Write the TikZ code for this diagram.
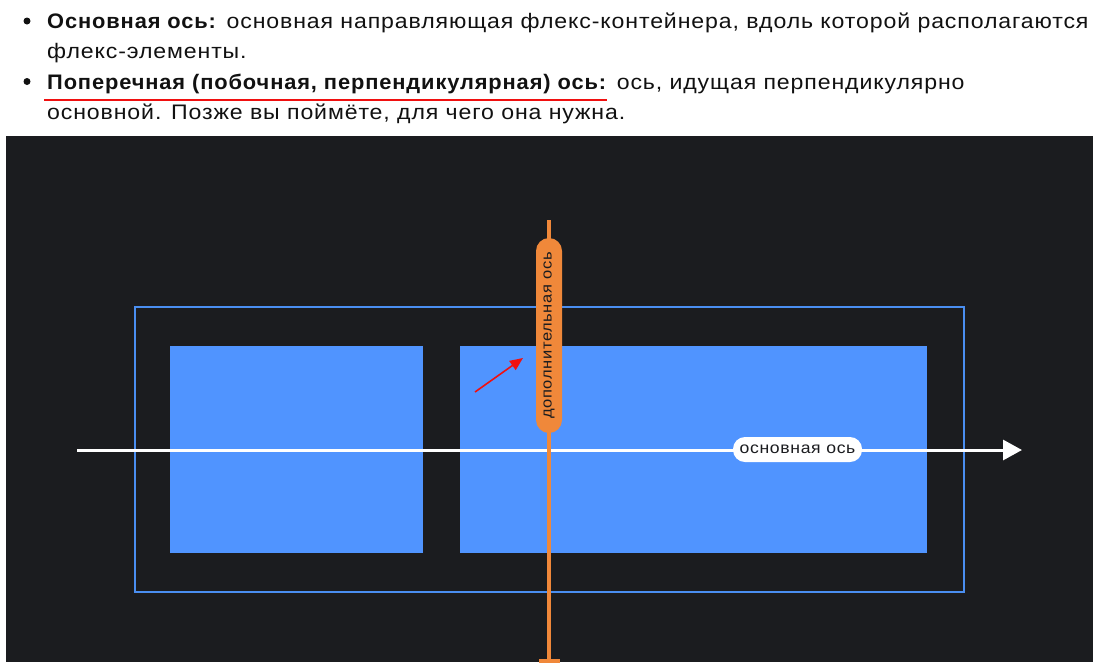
\documentclass[tikz,border=0pt]{standalone}
\usepackage{fontspec}
\setmainfont{Liberation Sans}[FakeStretch=1.1, LetterSpace=4.2, BoldFeatures={FakeStretch=1.04}]
\usetikzlibrary{arrows.meta}
\definecolor{panel}{HTML}{1B1C1F}
\definecolor{flexblue}{HTML}{5094FF}
\definecolor{contblue}{HTML}{4A8EF0}
\definecolor{axorange}{HTML}{F0883A}
\definecolor{txt}{HTML}{111111}
\definecolor{ulred}{HTML}{F01010}
\tikzset{
  bodytext/.style={anchor=base west, inner sep=0pt, text=txt, font=\fontsize{21}{24}\selectfont},
  bulletdot/.style={circle, fill=txt, inner sep=0pt, minimum size=7pt},
  flexitem/.style={fill=flexblue, draw=none, inner sep=0pt},
  container/.style={draw=contblue, line width=2pt, inner sep=0pt},
  mainaxis/.style={draw=white, line width=3pt, -{Triangle[length=19pt,width=20pt]}},
  crossaxis/.style={draw=axorange, line width=4pt},
  pill/.style={rounded corners=12pt, inner sep=0pt, text=panel, font=\fontsize{16}{18}\selectfont},
  pointer/.style={draw=ulred, line width=1.6pt, -{Triangle[length=13pt,width=11pt]}}
}
\begin{document}
\begin{tikzpicture}[x=1pt,y=-1pt]
\useasboundingbox (0,0) rectangle (1118,662);
\fill[white] (0,0) rectangle (1118,662);
% text
\node[bulletdot] (d1) at (27,21) {};
\node[bodytext] (t1) at (47,28.5) {\textbf{Основная ось:} основная направляющая флекс-контейнера, вдоль которой располагаются};
\node[bodytext] (t2) at (47,58.5) {флекс-элементы.};
\node[bulletdot] (d2) at (27,81.5) {};
\node[bodytext] (t3) at (47,89) {\textbf{Поперечная (побочная, перпендикулярная) ось:} ось, идущая перпендикулярно};
\node[bodytext] (t4) at (47,119.5) {основной. Позже вы поймёте, для чего она нужна.};
\coordinate (u1) at (44,100);
\coordinate (u2) at (607,100);
\draw[ulred, line width=2pt] (u1) -- (u2);
% panel
\fill[panel] (6,136) rectangle (1093,662);
\node[container, minimum width=829pt, minimum height=285.5pt] (cont) at (549.7,449.5) {};
\node[flexitem, minimum width=253.3pt, minimum height=207.6pt] (f1) at (296.6,449.5) {};
\node[flexitem, minimum width=467pt, minimum height=207.6pt] (f2) at (693.8,449.5) {};
% main axis
\coordinate (m1) at (77,450);
\coordinate (m2) at (1022,450);
\draw[mainaxis] (m1) -- (m2);
\node[pill, fill=white, minimum width=129pt, minimum height=25pt] (ml) at (797.5,449.5) {основная ось};
% cross axis
\coordinate (c1) at (548.5,220);
\coordinate (c2) at (548.5,662);
\draw[crossaxis] (c1) -- (c2);
\fill[axorange] (539,659) rectangle (560,663);
\node[pill, fill=axorange, rotate=90, rounded corners=13pt, minimum width=195pt, minimum height=26pt, font=\fontsize{15}{18}\selectfont] (cl) at (549,335.5) {дополнительная ось};
% pointer
\coordinate (p1) at (475,392);
\coordinate (p2) at (523,358);
\draw[pointer] (p1) -- (p2);
\end{tikzpicture}
\end{document}
